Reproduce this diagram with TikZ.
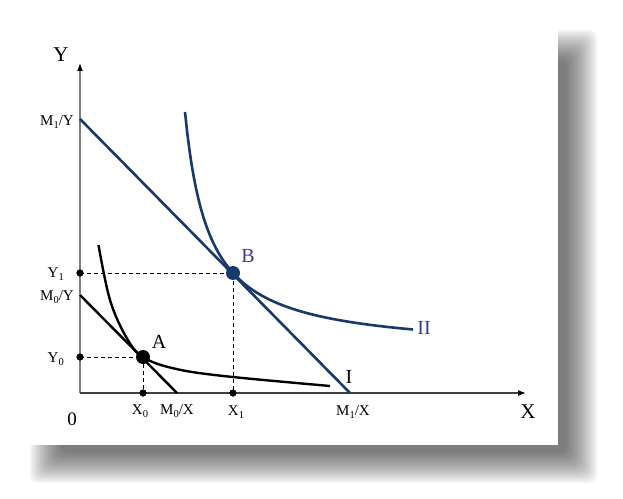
\documentclass[tikz,border=0pt]{standalone}
\usepackage{fontspec}
\setmainfont{Liberation Serif}
\usetikzlibrary{arrows.meta}
\definecolor{navy}{HTML}{173A6B}
\definecolor{lblue}{HTML}{3C3C8E}
\newcommand\lsub[1]{\raisebox{-0.4ex}{\fontsize{10.5bp}{10.5bp}\selectfont #1}}
\begin{document}
\begin{tikzpicture}[x=1bp,y=-1bp,
  tick/.style={font=\fontsize{15bp}{17bp}\selectfont, inner sep=0pt},
  big/.style={font=\fontsize{21bp}{23bp}\selectfont, inner sep=0pt},
  ptlabel/.style={font=\fontsize{20bp}{22bp}\selectfont, inner sep=0pt},
  navyline/.style={draw=navy, line width=2.6bp},
  blackline/.style={draw=black, line width=2.4bp},
  guide/.style={draw=black, line width=1bp, dash pattern=on 4bp off 3bp},
  smalldot/.style={circle, fill=black, inner sep=0pt, minimum size=7bp},
  bigdot/.style={circle, inner sep=0pt, minimum size=14bp},
  axisarrow/.style={-{Latex[length=8bp,width=6bp,color=black]}, line width=1.3bp}
]
\useasboundingbox (0,0) rectangle (623,499);
% shadow
\foreach \r in {15,13,...,-15}
  \fill[black, opacity=0.045, rounded corners=8bp] (45-\r,45-\r) rectangle (582+\r,468+\r);
% card
\fill[white] (25,25) rectangle (558,445);

% points
\coordinate (O) at (80,393);
\coordinate (Ytip) at (80,63);
\coordinate (Xtip) at (526,393);
\coordinate (M1Y) at (80,119);
\coordinate (M1X) at (350,393);
\coordinate (M0Y) at (80,295);
\coordinate (M0X) at (177,393);

% axes
\draw[axisarrow, draw=gray] (O) -- (Ytip);
\draw[axisarrow, draw=black!75] (O) -- (Xtip);

% dots (placed first so guides can use them)
\node[smalldot] (Y1d) at (80,273) {};
\node[smalldot] (Y0d) at (80,357) {};
\node[smalldot] (X0d) at (143,393) {};
\node[smalldot] (X1d) at (233,393) {};
\node[bigdot] (B) at (233,273) {};
\node[bigdot] (A) at (143,357) {};

% guides
\draw[guide] (Y1d.center) -- (B.center) -- (X1d.center);
\draw[guide] (Y0d.center) -- (A.center) -- (X0d.center);

% budget lines
\draw[navyline] (M1Y) -- (M1X);
\draw[blackline] (M0Y) -- (M0X);

% indifference curves
\draw[navyline] plot[domain=185:413, samples=100] (\x, {352-5664/(\x-161.4)});
\draw[blackline] plot[smooth, tension=0.6] coordinates
  {(98.5,245) (110,300) (126.7,338) (143,357) (173.3,368.3) (223.3,376) (330,386)};

% dots on top
\fill[navy] (B) circle (7bp);
\fill[black] (A) circle (7bp);
\fill[black] (Y1d) circle (3.5bp);
\fill[black] (Y0d) circle (3.5bp);
\fill[black] (X0d) circle (3.5bp);
\fill[black] (X1d) circle (3.5bp);

% labels
\node[big] (ylab) at (61,55) {Y};
\node[big] (xlab) at (528,412) {X};
\node[font=\fontsize{19bp}{21bp}\selectfont, inner sep=0pt] (zero) at (72,419) {0};
\node[tick, anchor=east] (lM1Y) at (74,122) {M\lsub{1}/Y};
\node[tick, anchor=east] (lY1) at (64,274) {Y\lsub{1}};
\node[tick, anchor=east] (lM0Y) at (74,297) {M\lsub{0}/Y};
\node[tick, anchor=east] (lY0) at (64,359) {Y\lsub{0}};
\node[tick] (lX0) at (140,411) {X\lsub{0}};
\node[tick] (lM0X) at (177,411) {M\lsub{0}/X};
\node[tick] (lX1) at (236,412) {X\lsub{1}};
\node[tick] (lM1X) at (353,412) {M\lsub{1}/X};
\node[ptlabel, text=lblue] (lB) at (248,256) {B};
\node[ptlabel] (lA) at (159,342) {A};
\node[ptlabel] (lI) at (349,377) {I};
\node[ptlabel, text=lblue] (lII) at (424,328) {II};
\end{tikzpicture}
\end{document}
